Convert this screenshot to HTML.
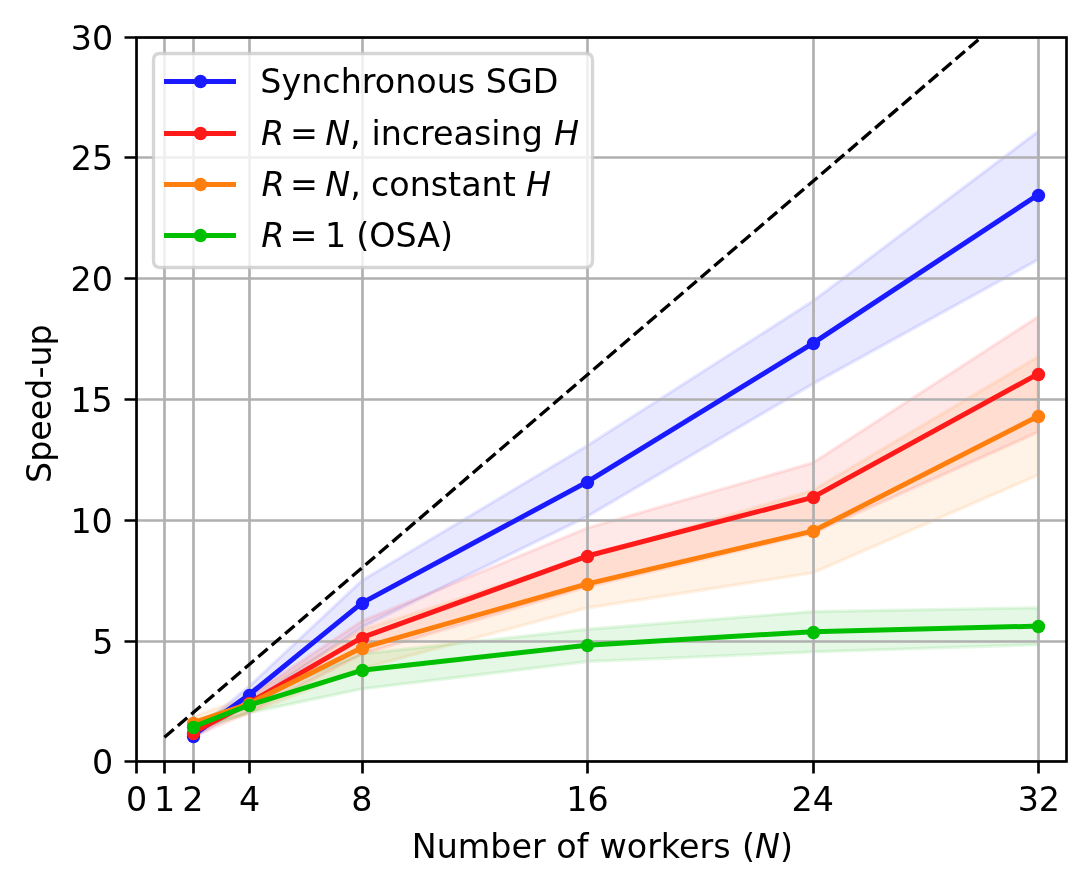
<!DOCTYPE html>
<html><head><meta charset="utf-8"><title>Speed-up vs number of workers</title>
<style>html,body{margin:0;padding:0;background:#fff;overflow:hidden}svg{display:block}text{white-space:pre}</style>
</head><body>
<svg width="1090" height="889" viewBox="0 0 1090 889">
<defs><clipPath id="ax"><rect x="136" y="37" width="930" height="724"/></clipPath></defs>
<rect width="1090" height="889" fill="#fff"/>
<g clip-path="url(#ax)" stroke-width="3.33" stroke-linejoin="round">
<path d="M192.63 733.13 L249 686.5 L361.75 580.68 L587.26 445.63 L812.76 301.15 L1038.27 131.31 L1038.27 259.6 L812.76 384.02 L587.26 516.42 L361.75 627.31 L249 703.9 L192.63 738.45Z" fill="#1a1aff" fill-opacity="0.1" stroke="#1a1aff" stroke-opacity="0.1"/>
<path d="M192.63 729.99 L249 695.68 L361.75 621.27 L587.26 528.01 L812.76 462.78 L1038.27 316.61 L1038.27 432.1 L812.76 533.09 L587.26 586.96 L361.75 654.13 L249 712.6 L192.63 736.76Z" fill="#ff1a1a" fill-opacity="0.1" stroke="#ff1a1a" stroke-opacity="0.1"/>
<path d="M192.63 716.7 L249 696.65 L361.75 629.97 L587.26 557.25 L812.76 490.32 L1038.27 356.72 L1038.27 475.1 L812.76 572.95 L587.26 607.98 L361.75 668.63 L249 713.32 L192.63 728.78Z" fill="#ff7f0e" fill-opacity="0.1" stroke="#ff7f0e" stroke-opacity="0.1"/>
<path d="M192.63 723.47 L249 699.07 L361.75 653.89 L587.26 629.24 L812.76 611.61 L1038.27 607.74 L1038.27 644.71 L812.76 651.96 L587.26 661.62 L361.75 688.92 L249 712.84 L192.63 730.72Z" fill="#00bf00" fill-opacity="0.1" stroke="#00bf00" stroke-opacity="0.1"/>
</g>
<path d="M136.5 37.5V761.5M164.5 37.5V761.5M193.5 37.5V761.5M249.5 37.5V761.5M362.5 37.5V761.5M587.5 37.5V761.5M813.5 37.5V761.5M1038.5 37.5V761.5M136.5 761.5H1066.5M136.5 641.5H1066.5M136.5 520.5H1066.5M136.5 399.5H1066.5M136.5 278.5H1066.5M136.5 157.5H1066.5M136.5 37.5H1066.5" stroke="#b0b0b0" stroke-width="2.67" stroke-linecap="square" fill="none" clip-path="url(#ax)"/>
<path d="M136.5 761.5v12M164.5 761.5v12M193.5 761.5v12M249.5 761.5v12M362.5 761.5v12M587.5 761.5v12M813.5 761.5v12M1038.5 761.5v12M136.5 761.5h-12M136.5 641.5h-12M136.5 520.5h-12M136.5 399.5h-12M136.5 278.5h-12M136.5 157.5h-12M136.5 37.5h-12" stroke="#000" stroke-width="2.67" fill="none"/>
<g clip-path="url(#ax)">
<path d="M192.63 735.79 L249 694.72 L361.75 603.15 L587.26 481.87 L812.76 343.43 L1038.27 194.61" stroke="#1a1aff" stroke-width="5" stroke-linecap="square" stroke-linejoin="round" fill="none"/>
<g fill="#1a1aff"><circle cx="193.5" cy="736.5" r="6.67"/><circle cx="249.5" cy="695.5" r="6.67"/><circle cx="362.5" cy="603.5" r="6.67"/><circle cx="587.5" cy="482.5" r="6.67"/><circle cx="813.5" cy="343.5" r="6.67"/><circle cx="1038.5" cy="195.5" r="6.67"/></g>
<path d="M192.63 732.89 L249 702.93 L361.75 637.7 L587.26 556.04 L812.76 497.33 L1038.27 373.87" stroke="#ff1a1a" stroke-width="5" stroke-linecap="square" stroke-linejoin="round" fill="none"/>
<g fill="#ff1a1a"><circle cx="193.5" cy="733.5" r="6.67"/><circle cx="249.5" cy="703.5" r="6.67"/><circle cx="362.5" cy="638.5" r="6.67"/><circle cx="587.5" cy="556.5" r="6.67"/><circle cx="813.5" cy="497.5" r="6.67"/><circle cx="1038.5" cy="374.5" r="6.67"/></g>
<path d="M192.63 722.99 L249 703.9 L361.75 647.85 L587.26 583.82 L812.76 531.16 L1038.27 416.15" stroke="#ff7f0e" stroke-width="5" stroke-linecap="square" stroke-linejoin="round" fill="none"/>
<g fill="#ff7f0e"><circle cx="193.5" cy="723.5" r="6.67"/><circle cx="249.5" cy="704.5" r="6.67"/><circle cx="362.5" cy="648.5" r="6.67"/><circle cx="587.5" cy="584.5" r="6.67"/><circle cx="813.5" cy="531.5" r="6.67"/><circle cx="1038.5" cy="416.5" r="6.67"/></g>
<path d="M192.63 727.09 L249 705.11 L361.75 670.32 L587.26 645.19 L812.76 631.66 L1038.27 626.1" stroke="#00bf00" stroke-width="5" stroke-linecap="square" stroke-linejoin="round" fill="none"/>
<g fill="#00bf00"><circle cx="193.5" cy="727.5" r="6.67"/><circle cx="249.5" cy="705.5" r="6.67"/><circle cx="362.5" cy="670.5" r="6.67"/><circle cx="587.5" cy="645.5" r="6.67"/><circle cx="813.5" cy="632.5" r="6.67"/><circle cx="1038.5" cy="626.5" r="6.67"/></g>
<path d="M164.44 737.24L1038.27 -11.72" stroke="#000" stroke-width="3.33" stroke-dasharray="12.33 5.33" fill="none"/>
</g>
<rect x="136.5" y="37.5" width="930" height="724" fill="none" stroke="#000" stroke-width="2.67"/>
<path d="M160.17 267.5H585.83Q592.5 267.5 592.5 260.83V60.17Q592.5 53.5 585.83 53.5H160.17Q153.5 53.5 153.5 60.17V260.83Q153.5 267.5 160.17 267.5Z" fill="#fff" fill-opacity="0.8" stroke="#ccc" stroke-opacity="0.8" stroke-width="3.33" stroke-linejoin="miter"/>
<path d="M166.5 81.5H233.5" stroke="#1a1aff" stroke-width="5" stroke-linecap="square"/>
<circle cx="200.5" cy="81.5" r="6.67" fill="#1a1aff"/>
<path d="M166.5 133.5H233.5" stroke="#ff1a1a" stroke-width="5" stroke-linecap="square"/>
<circle cx="200.5" cy="133.5" r="6.67" fill="#ff1a1a"/>
<path d="M166.5 184.5H233.5" stroke="#ff7f0e" stroke-width="5" stroke-linecap="square"/>
<circle cx="200.5" cy="184.5" r="6.67" fill="#ff7f0e"/>
<path d="M166.5 235.5H233.5" stroke="#00bf00" stroke-width="5" stroke-linecap="square"/>
<circle cx="200.5" cy="235.5" r="6.67" fill="#00bf00"/>
<text font-family="'DejaVu Sans', 'Liberation Sans', sans-serif" font-size="33.33" x="126.03" y="810.73">0</text>
<text font-family="'DejaVu Sans', 'Liberation Sans', sans-serif" font-size="33.33" x="154.11" y="810.73">1</text>
<text font-family="'DejaVu Sans', 'Liberation Sans', sans-serif" font-size="33.33" x="182.24" y="810.73">2</text>
<text font-family="'DejaVu Sans', 'Liberation Sans', sans-serif" font-size="33.33" x="238.98" y="810.73">4</text>
<text font-family="'DejaVu Sans', 'Liberation Sans', sans-serif" font-size="33.33" x="351.19" y="810.73">8</text>
<text font-family="'DejaVu Sans', 'Liberation Sans', sans-serif" font-size="33.33" x="566.21" y="810.73">16</text>
<text font-family="'DejaVu Sans', 'Liberation Sans', sans-serif" font-size="33.33" x="791.45" y="810.73">24</text>
<text font-family="'DejaVu Sans', 'Liberation Sans', sans-serif" font-size="33.33" x="1017.65" y="810.73">32</text>
<text font-family="'DejaVu Sans', 'Liberation Sans', sans-serif" font-size="33.33" y="858.07"><tspan x="411.77">Number </tspan><tspan x="556.34">of </tspan><tspan x="599.53">workers </tspan><tspan x="742.02">(</tspan><tspan x="755.04" font-style="italic">N</tspan><tspan x="780">)</tspan></text>
<text font-family="'DejaVu Sans', 'Liberation Sans', sans-serif" font-size="33.33" x="92.07" y="774.4">0</text>
<text font-family="'DejaVu Sans', 'Liberation Sans', sans-serif" font-size="33.33" x="92.27" y="653.6">5</text>
<text font-family="'DejaVu Sans', 'Liberation Sans', sans-serif" font-size="33.33" x="70.42" y="532.8">10</text>
<text font-family="'DejaVu Sans', 'Liberation Sans', sans-serif" font-size="33.33" x="70.42" y="412">15</text>
<text font-family="'DejaVu Sans', 'Liberation Sans', sans-serif" font-size="33.33" x="70.59" y="291.2">20</text>
<text font-family="'DejaVu Sans', 'Liberation Sans', sans-serif" font-size="33.33" x="70.69" y="170.4">25</text>
<text font-family="'DejaVu Sans', 'Liberation Sans', sans-serif" font-size="33.33" x="70.82" y="49.6">30</text>
<text font-family="'DejaVu Sans', 'Liberation Sans', sans-serif" font-size="33.33" text-anchor="start" transform="translate(50.86 483.01) rotate(-90)">Speed-up</text>
<text font-family="'DejaVu Sans', 'Liberation Sans', sans-serif" font-size="33.33" x="260.33" y="92.6">Synchronous SGD</text>
<text font-family="'DejaVu Sans', 'Liberation Sans', sans-serif" font-size="33.33" y="145.27"><tspan x="260.98" font-style="italic">R</tspan><tspan x="289.98">=</tspan><tspan x="325.14" font-style="italic">N</tspan><tspan x="350.11">, </tspan><tspan x="371.4">increasing </tspan><tspan x="554.12" font-style="italic">H</tspan></text>
<text font-family="'DejaVu Sans', 'Liberation Sans', sans-serif" font-size="33.33" y="195.93"><tspan x="261.48" font-style="italic">R</tspan><tspan x="289.88">=</tspan><tspan x="325.24" font-style="italic">N</tspan><tspan x="350.21">, </tspan><tspan x="370.93">constant </tspan><tspan x="526.12" font-style="italic">H</tspan></text>
<text font-family="'DejaVu Sans', 'Liberation Sans', sans-serif" font-size="33.33" y="246.6"><tspan x="261.18" font-style="italic">R</tspan><tspan x="289.58">=</tspan><tspan x="325.04">1 </tspan><tspan x="356.16">(OSA)</tspan></text>
</svg>
</body></html>
